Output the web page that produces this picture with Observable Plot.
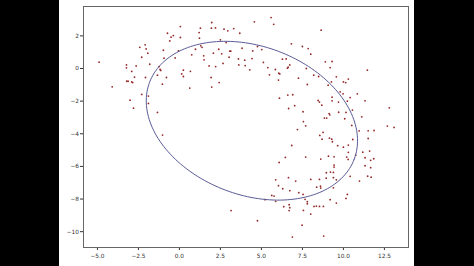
<!DOCTYPE html>
<html>
<head>
<meta charset="utf-8">
<script src="https://cdn.jsdelivr.net/npm/d3@7"></script>
<script src="https://cdn.jsdelivr.net/npm/@observablehq/plot@0.6"></script>
<style>
  html, body { margin: 0; padding: 0; background: #000; width: 474px; height: 266px; overflow: hidden; }
  #fig { position: absolute; left: 59px; top: 0; width: 355px; height: 266px; background: #fff; }
</style>
</head>
<body>
<div id="fig"></div>
<script>
const xs = [
  -4.90, 0.06, -0.73, -0.37, -0.51, 0.06, -0.59, -2.09, -2.42, -2.03, -1.93, -0.98, -0.06, 0.75, -2.30, -0.94,
  -0.26, -1.81, -3.23, -2.64, -3.23, -1.24, -1.18, -1.14, 0.24, 0.67, 0.14, -1.34, 0.24, -2.91, -2.74, -2.07,
  -0.79, -3.21, -3.13, -2.91, -2.85, -1.04, -4.10, 0.63, -2.30, -1.89, -3.01, -1.89, -2.80, -1.34, -1.03,
  1.97, 5.59, 4.57, 5.75, 1.28, 1.95, 2.20, 2.72, 2.95, 3.31, 3.68, 1.20, 1.22, 2.85, 1.30, 1.38, 0.98, 2.40,
  2.07, 3.07, 3.13, 3.82, 2.58, 1.48, 1.50, 3.03, 3.60, 3.98, 4.47, 4.76, 5.02, 4.43, 5.12, 2.66, 3.62, 4.01,
  1.81, 2.21, 4.29, 5.39, 5.85, 5.49, 6.06, 6.12, 6.28, 6.51, 6.83, 6.73, 6.63, 6.59, 7.26, 1.93, 6.04, 2.42,
  1.97, 6.10, 6.61, 6.91, 6.66, 7.03, 2.50,
  8.64, 7.50, 7.85, 8.01, 8.90, 9.31, 9.19, 11.46, 7.74, 8.19, 8.49, 9.57, 9.27, 10.00, 10.14, 10.30, 7.80,
  9.07, 9.80, 9.98, 10.85, 10.41, 9.31, 9.31, 9.70, 10.24, 11.32, 8.46, 8.54, 8.68, 7.54, 9.13, 9.17, 9.71,
  10.16, 10.55, 8.84, 8.98, 7.56, 10.08, 11.12, 12.80, 7.70, 10.51, 12.68, 13.09,
  7.20, 8.76, 8.56, 8.70, 9.15, 9.29, 9.33, 9.65, 10.00, 10.30, 10.57, 10.96, 11.51, 11.87, 11.51, 10.30,
  10.20, 10.29, 10.75, 11.18, 11.60, 11.32, 11.85, 11.66, 11.32, 11.66, 11.48, 11.69, 10.98, 10.41, 7.70,
  8.62, 9.09, 9.43, 9.43, 9.43, 9.21, 9.39, 8.96, 8.01, 8.54, 8.95, 9.39, 9.57, 8.60, 8.37, 8.62, 9.39, 10.24,
  10.16, 7.28, 7.54, 7.66, 7.80, 7.80, 8.21, 8.35, 8.54, 8.78, 9.19, 9.57, 7.56, 8.01, 7.48, 8.80,
  6.85, 6.46, 6.08, 5.87, 6.65, 7.09, 6.04, 6.30, 6.73, 5.63, 5.77, 5.22, 5.87, 6.36, 6.69, 6.73, 6.69, 3.15,
  4.76, 6.89
];
const ys = [
  0.39, 2.57, 2.16, 2.02, 1.92, 1.90, 1.69, 1.45, 1.30, 1.20, 0.94, 1.12, 1.08, 0.84, 0.69, 0.63,
  0.65, 0.26, 0.22, 0.16, 0.04, 0.12, -0.06, -0.12, -0.10, -0.17, -0.33, -0.41, -0.49, -0.18, -0.53, -0.55,
  -0.55, -0.78, -0.78, -0.82, -0.86, -0.96, -1.12, -1.20, -1.59, -1.69, -1.94, -2.14, -2.43, -2.69, -4.08,
  2.82, 3.12, 2.86, 2.71, 2.47, 2.47, 2.49, 2.41, 2.31, 2.45, 2.16, 2.20, 1.86, 1.59, 1.39, 1.30, 1.18, 1.18,
  0.94, 1.06, 1.06, 1.24, 0.90, 0.78, 0.53, 0.69, 0.59, 0.51, 1.08, 1.35, 1.16, 0.61, 0.37, 0.31, 0.22, 0.18,
  0.16, 0.12, -0.08, 0.06, -0.06, -0.39, -0.29, -0.33, 0.57, 0.59, 1.51, 0.22, 0.08, 0.02, -0.59, -0.55, -0.71, -0.86,
  -1.14, -1.82, -1.63, -1.61, -2.45, -2.28, 1.76,
  2.35, 1.35, 1.22, 0.88, 0.41, 0.43, 0.06, -0.10, 0.00, -0.41, -0.49, -0.51, -0.82, -0.82, -0.86, -0.65, -0.98,
  -1.02, -1.43, -1.55, -1.55, -1.78, -1.76, -1.98, -2.06, -2.00, -1.98, -1.96, -2.06, -2.25, -2.65, -2.76, -2.84, -2.68,
  -2.69, -2.55, -3.04, -3.04, -3.25, -3.08, -2.96, -2.41, -3.51, -3.49, -3.53, -3.61,
  -3.74, -3.92, -4.10, -4.33, -4.27, -4.33, -4.49, -4.73, -4.82, -4.69, -4.35, -3.82, -3.82, -3.80, -4.29, -5.14,
  -5.43, -5.57, -5.31, -5.13, -5.06, -5.47, -5.53, -5.63, -5.96, -6.08, -6.60, -6.66, -6.90, -6.61, -5.43,
  -5.55, -5.37, -5.41, -5.92, -6.04, -6.35, -6.37, -6.39, -6.80, -6.80, -6.72, -6.69, -6.82, -7.21, -7.27, -7.33, -7.31, -7.72,
  -7.96, -7.61, -7.72, -8.02, -8.16, -8.29, -8.45, -8.43, -8.45, -8.45, -8.04, -8.25, -8.70, -8.92, -9.60, -10.27,
  -4.72, -5.45, -5.76, -6.82, -6.69, -6.90, -7.18, -7.37, -7.49, -7.78, -7.82, -8.04, -8.14, -8.47, -8.35, -8.53, -8.71, -8.71,
  -9.33, -10.33
];
const xTicks = [-5.0, -2.5, 0.0, 2.5, 5.0, 7.5, 10.0, 12.5];
const yTicks = [-10, -8, -6, -4, -2, 0, 2];
// fitted ellipse parameters
const ellipseCenter = [4.42, -3.2];
const ellipseRadii = [6.67, 4.55];
const ellipseAngleDeg = [-20.7];

const n = Math.min(xs.length, ys.length);
const points = d3.range(n).map(i => ({x: xs[i], y: ys[i]}));

const th = ellipseAngleDeg[0] * Math.PI / 180;
const ellipse = d3.range(0, 361, 2).map(d => {
  const t = d * Math.PI / 180;
  const a = ellipseRadii[0] * Math.cos(t), b = ellipseRadii[1] * Math.sin(t);
  return {x: ellipseCenter[0] + a * Math.cos(th) - b * Math.sin(th),
          y: ellipseCenter[1] + a * Math.sin(th) + b * Math.cos(th)};
});

const fmt = (d, dec) => (d < 0 ? "\u2212" : "") + Math.abs(d).toFixed(dec);

const chart = Plot.plot({
  width: 355,
  height: 266,
  marginLeft: 24,
  marginRight: 6,
  marginTop: 6,
  marginBottom: 19,
  style: {fontFamily: "DejaVu Sans", fontSize: "5.8px", color: "#333", background: "#fff"},
  x: {domain: [-5.85, 13.97], ticks: xTicks, tickFormat: d => fmt(d, 1), tickSize: 3, tickPadding: 3, label: null},
  y: {domain: [-10.97, 3.80], ticks: yTicks, tickFormat: d => fmt(d, 0), tickSize: 3, tickPadding: 1.5, label: null},
  marks: [
    Plot.frame({stroke: "#666", strokeWidth: 1}),
    Plot.dot(points, {x: "x", y: "y", r: 0.9, fill: "#952828", stroke: "none"}),
    Plot.line(ellipse, {x: "x", y: "y", stroke: "#5a5a96", strokeWidth: 1})
  ]
});
document.getElementById("fig").appendChild(chart);
</script>
</body>
</html>
